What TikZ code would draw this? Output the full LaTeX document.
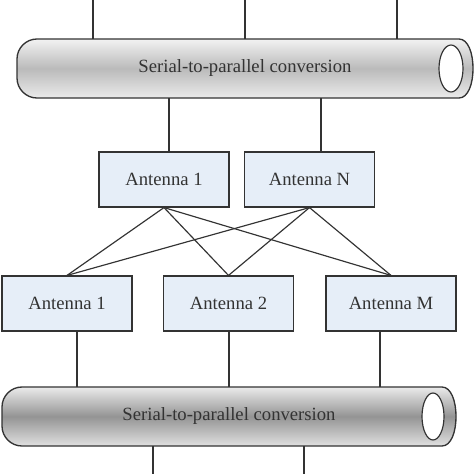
\documentclass[tikz,border=0pt]{standalone}
\usepackage{fontspec}
\setmainfont{Liberation Serif}
\usetikzlibrary{positioning}
\definecolor{boxfill}{HTML}{E6EEF8}
\definecolor{ink}{HTML}{333333}
\begin{document}
\begin{tikzpicture}[x=0.6pt,y=-0.6pt,%
        every node/.style={font=\fontsize{11.2}{13}\selectfont,text=ink},
        ant/.style={draw=ink,fill=boxfill,line width=0.7pt,minimum
          width=78pt,minimum height=33pt,inner sep=0pt},%
        wire/.style={draw=ink,line width=0.7pt},
        pipe/.style={draw=ink,line width=0.8pt},
        label/.style={inner sep=0pt}]%
  \useasboundingbox (0,0) rectangle (474,474);
  % upper pipe
  \shade[pipe,top color=white!95!black,bottom color=white!92!black,middle color=black!27]
    (459,39) -- (37,39) .. controls (26,39) and (17,48) .. (17,59) -- (17,78)
    .. controls (17,89) and (26,98) .. (37,98) -- (459,98)
    .. controls (477.7,98) and (477.7,39) .. (459,39) -- cycle;
  \draw[wire,fill=white] (451,68.5) ellipse [x radius=12,y radius=23.5];
  \node[label,minimum width=273.6pt,minimum height=35.4pt] (sp1) at (245,68.5)
    {Serial-to-parallel conversion};
  % lower pipe
  \shade[pipe,top color=white!92!black,bottom color=white!88!black,middle color=black!42]
    (442,387) -- (22,387) .. controls (11,387) and (2,396) .. (2,407) -- (2,426)
    .. controls (2,437) and (11,446) .. (22,446) -- (442,446)
    .. controls (460.7,446) and (460.7,387) .. (442,387) -- cycle;
  \draw[wire,fill=white] (433,416.5) ellipse [x radius=11,y radius=23.5];
  \node[label,minimum width=272.4pt,minimum height=35.4pt] (sp2) at (229,416.5)
    {Serial-to-parallel conversion};
  % antennas
  \node[ant] (t1) at (164,179.5) {Antenna 1};
  \node[ant] (tN) at (309.5,179.5) {Antenna N};
  \node[ant] (b1) at (67,303.5) {Antenna 1};
  \node[ant] (b2) at (228.5,303.5) {Antenna 2};
  \node[ant] (bM) at (391,303.5) {Antenna M};
  % inputs and outputs
  \foreach \x [count=\i] in {93,245,397} {
    \coordinate (in\i) at (\x,0);
    \draw[wire] (in\i) -- (in\i |- sp1.north);}
  \foreach \x [count=\i] in {153,304} {
    \coordinate (out\i) at (\x,474);
    \draw[wire] (out\i |- sp2.south) -- (out\i);}
  \draw[wire] ([xshift=3pt]t1.north) -- ([xshift=3pt]t1.north |- sp1.south);
  \draw[wire] ([xshift=6.9pt]tN.north) -- ([xshift=6.9pt]tN.north |- sp1.south);
  \draw[wire] ([xshift=6pt]b1.south) -- ([xshift=6pt]b1.south |- sp2.north);
  \draw[wire] ([xshift=0.3pt]b2.south) -- ([xshift=0.3pt]b2.south |- sp2.north);
  \draw[wire] ([xshift=-6.6pt]bM.south) -- ([xshift=-6.6pt]bM.south |- sp2.north);
  % full mesh
  \foreach \t in {t1,tN}
    \foreach \b in {b1,b2,bM}
      \draw[wire] (\t.south) -- (\b.north);
\end{tikzpicture}
\end{document}
